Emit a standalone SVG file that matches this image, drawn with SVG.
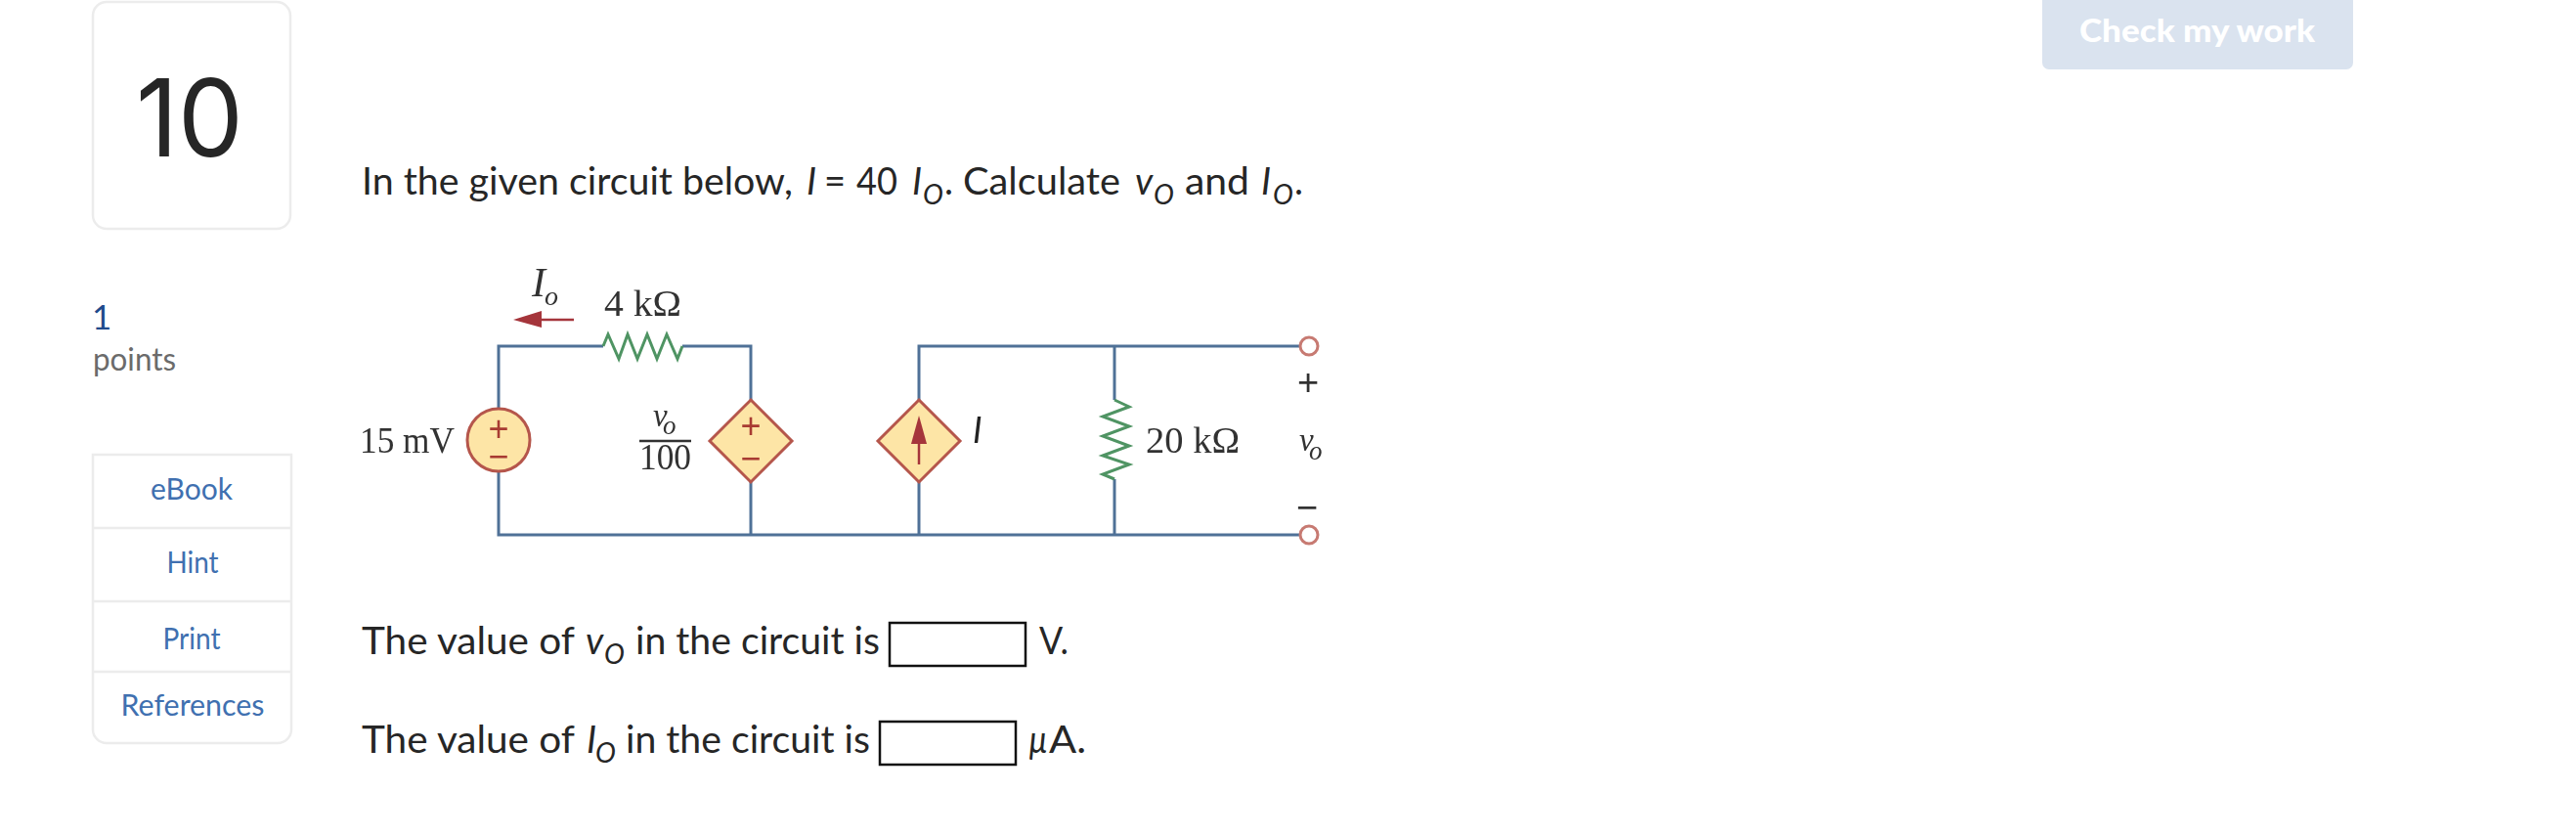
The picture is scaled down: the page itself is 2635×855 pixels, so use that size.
<svg xmlns="http://www.w3.org/2000/svg" width="2635" height="855" viewBox="0 0 2635 855">
<style>
.q{font-family:Lato,"Open Sans","Liberation Sans",sans-serif;font-size:38px;fill:#262626}
.i{font-style:italic}
.o{font-family:Lato,"Open Sans","Liberation Sans",sans-serif;font-size:28px;font-style:italic;fill:#262626}
.nav{font-family:Lato,"Open Sans","Liberation Sans",sans-serif;font-size:31px;fill:#4070b0;text-anchor:middle}
.s{font-family:"Liberation Serif","Times New Roman",serif;font-size:37px;fill:#333}
.si{font-family:"Liberation Serif","Times New Roman",serif;font-style:italic;fill:#333}
.sign{font-family:"Liberation Sans",Arial,sans-serif;font-size:36px;text-anchor:middle;fill:#a83a32}
.signk{font-family:"Liberation Sans",Arial,sans-serif;font-size:38px;text-anchor:middle;fill:#333}
.w{fill:none;stroke:#4f7197;stroke-width:3}
.r{fill:none;stroke:#4f9463;stroke-width:3}
.src{fill:#fde5a6;stroke:#b5564c;stroke-width:3}
.card{fill:#fff;stroke:#ececec;stroke-width:2.5}
.box{fill:#fff;stroke:#111;stroke-width:2.5}
</style>
<defs><filter id="soft" x="-5%" y="-5%" width="110%" height="110%"><feGaussianBlur stdDeviation="0.7"/></filter></defs>
<rect width="2635" height="855" fill="#fff"/>

<g id="question-number">
<rect class="card" x="95" y="2" width="202" height="232" rx="14"/>
<text x="139" y="160" font-family="Inter,Lato,sans-serif" font-size="110" fill="#262626" textLength="110" lengthAdjust="spacingAndGlyphs">10</text>
</g>
<g id="points">
<text x="94" y="337" font-family="Lato,'Open Sans',sans-serif" font-size="35" fill="#1f4a8c">1</text>
<text x="95" y="379" font-family="Lato,'Open Sans',sans-serif" font-size="32" fill="#6b6b6b" textLength="85" lengthAdjust="spacingAndGlyphs">points</text>
</g>
<g id="nav-menu">
<path class="card" d="M95 465H298V746a14 14 0 0 1-14 14H109a14 14 0 0 1-14-14Z"/>
<path class="card" d="M95 540H298M95 615H298M95 687H298" fill="none"/>
<text class="nav" x="196" y="511" textLength="84" lengthAdjust="spacingAndGlyphs">eBook</text>
<text class="nav" x="197" y="586" textLength="53" lengthAdjust="spacingAndGlyphs">Hint</text>
<text class="nav" x="196" y="664" textLength="59" lengthAdjust="spacingAndGlyphs">Print</text>
<text class="nav" x="197" y="732" textLength="147" lengthAdjust="spacingAndGlyphs">References</text>
</g>
<g id="check-button">
<rect x="2089" y="-10" width="318" height="81" rx="7" fill="#dae3ef"/>
<text x="2127" y="43" font-family="Lato,'Open Sans',sans-serif" font-weight="900" font-size="33" fill="#fff" textLength="241" lengthAdjust="spacingAndGlyphs">Check my work</text>
</g>

<g id="question-text">
<text class="q" x="370" y="199" textLength="441" lengthAdjust="spacingAndGlyphs">In the given circuit below,</text>
<text class="q i" x="825" y="199">I</text>
<text class="q" x="843" y="199">=</text>
<text class="q" x="876" y="199" textLength="42" lengthAdjust="spacingAndGlyphs">40</text>
<text class="q i" x="933" y="199">I</text>
<text class="o" x="944" y="209">O</text>
<text class="q" x="966" y="199">.</text>
<text class="q" x="985" y="199" textLength="161" lengthAdjust="spacingAndGlyphs">Calculate</text>
<text class="q i" x="1161" y="199">v</text>
<text class="o" x="1180" y="209">O</text>
<text class="q" x="1212" y="199" textLength="66" lengthAdjust="spacingAndGlyphs">and</text>
<text class="q i" x="1290" y="199">I</text>
<text class="o" x="1302" y="209">O</text>
<text class="q" x="1324" y="199">.</text>
</g>

<g id="answer-1">
<text class="q" x="370" y="669" textLength="218" lengthAdjust="spacingAndGlyphs">The value of</text>
<text class="q i" x="599" y="669">v</text>
<text class="o" x="618" y="679">O</text>
<text class="q" x="650" y="669" textLength="250" lengthAdjust="spacingAndGlyphs">in the circuit is</text>
<rect class="box" x="910" y="637" width="139" height="44"/>
<text class="q" x="1063" y="669" textLength="30" lengthAdjust="spacingAndGlyphs">V.</text>
</g>
<g id="answer-2">
<text class="q" x="370" y="770" textLength="218" lengthAdjust="spacingAndGlyphs">The value of</text>
<text class="q i" x="600" y="770">I</text>
<text class="o" x="609" y="780">O</text>
<text class="q" x="640" y="770" textLength="250" lengthAdjust="spacingAndGlyphs">in the circuit is</text>
<rect class="box" x="900" y="738" width="139" height="44"/>
<text class="q i" x="1052" y="770" textLength="20" lengthAdjust="spacingAndGlyphs">µ</text>
<text class="q" x="1073" y="770" textLength="38" lengthAdjust="spacingAndGlyphs">A.</text>
</g>

<g id="circuit" filter="url(#soft)">
<g id="connectors">
<path class="w" d="M510 418V354H617M698 354H768V409M768 493V547M510 482V547H1330M940 409V354H1330M940 493V547M1140 354V409M1140 490V547"/>
<path d="M587 327H550" fill="none" stroke="#a5343a" stroke-width="2.5"/>
<polygon points="525,327 554,318 554,335" fill="#a5343a"/>
</g>
<g id="source-15mV">
<circle class="src" cx="510" cy="450" r="32"/>
<text class="sign" x="510" y="451">+</text>
<text class="sign" x="510" y="479">−</text>
<text class="s" x="368" y="463" textLength="97" lengthAdjust="spacingAndGlyphs">15 mV</text>
</g>
<g id="resistor-4k">
<polyline class="r" points="617,354 622,342 633,367 642,342 652,367 662,342 672,367 682,342 693,367 698,354"/>
<text class="s" x="618" y="323" textLength="79" lengthAdjust="spacingAndGlyphs">4 kΩ</text>
</g>
<g id="label-Io">
<text class="si" x="544" y="303" font-size="42">I</text>
<text class="si" x="557" y="312" font-size="28">o</text>
</g>
<g id="dep-voltage">
<polygon class="src" points="768,409 810,451 768,493 726,451"/>
<text class="sign" x="768" y="448">+</text>
<text class="sign" x="768" y="481">−</text>
<text class="si" x="668" y="436" font-size="33">v</text>
<text class="si" x="678" y="444" font-size="27">o</text>
<path d="M654 451H707" stroke="#333" stroke-width="2.5"/>
<text class="s" x="654" y="480" textLength="53" lengthAdjust="spacingAndGlyphs">100</text>
</g>
<g id="dep-current">
<polygon class="src" points="940,409 982,451 940,493 898,451"/>
<path d="M940 450V475" stroke="#a5343a" stroke-width="2.5"/>
<polygon points="940,425 948,454 932,454" fill="#a5343a"/>
<text x="995" y="453" font-family="Lato,sans-serif" font-style="italic" font-size="36" fill="#222">I</text>
</g>
<g id="resistor-20k">
<polyline class="r" points="1140,409 1155,416 1128,426 1155,436 1128,446 1155,456 1128,466 1155,475 1128,485 1140,490"/>
<text class="s" x="1172" y="463" textLength="96" lengthAdjust="spacingAndGlyphs">20 kΩ</text>
</g>
<g id="terminals">
<circle cx="1339" cy="354" r="9" fill="#fff" stroke="#c77a72" stroke-width="3"/>
<circle cx="1339" cy="547" r="9" fill="#fff" stroke="#c77a72" stroke-width="3"/>
<text class="signk" x="1338" y="404">+</text>
<text class="si" x="1329" y="461" font-size="33">v</text>
<text class="si" x="1339" y="470" font-size="27">o</text>
<text class="signk" x="1337" y="532">−</text>
</g>
</g>
</svg>
